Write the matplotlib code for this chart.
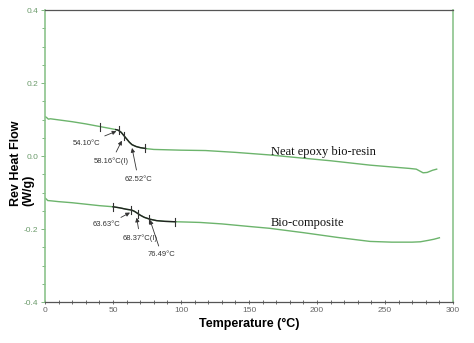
import matplotlib
matplotlib.use("Agg")
import matplotlib.pyplot as plt
import numpy as np

# ---- data ----
neat_T = [0, 1, 2.5, 4, 10, 20, 30, 40, 50, 53.7, 56, 58, 60, 62, 64, 67, 70, 75, 80,
          90, 100, 118, 140, 165, 190, 210, 239, 255, 268, 273, 276, 278, 281, 285, 288]
neat_v = [0.108, 0.106, 0.101, 0.102, 0.099, 0.094, 0.088, 0.081, 0.074, 0.071, 0.065,
          0.056, 0.047, 0.038, 0.031, 0.026, 0.023, 0.020, 0.018, 0.017, 0.016, 0.015,
          0.010, 0.003, -0.006, -0.013, -0.025, -0.030, -0.034, -0.036, -0.042, -0.046,
          -0.045, -0.039, -0.036]

bio_T = [0, 1, 2, 5, 10, 20, 30, 40, 50, 55, 60, 63.6, 66, 68, 70, 73, 77, 82, 88, 95,
         105, 114, 130, 150, 165, 190, 215, 239, 255, 270, 276, 282, 286, 290]
bio_v = [-0.115, -0.118, -0.122, -0.123, -0.125, -0.128, -0.132, -0.136, -0.139, -0.142,
         -0.146, -0.148, -0.152, -0.157, -0.162, -0.168, -0.173, -0.177, -0.179, -0.180,
         -0.181, -0.182, -0.186, -0.193, -0.198, -0.210, -0.223, -0.234, -0.236, -0.236,
         -0.235, -0.231, -0.228, -0.224]

neat_marks = [40.5, 54.1, 58.2, 73.5]
bio_marks = [49.8, 63.6, 68.4, 76.5, 95.6]

neat_black = (52, 74)
bio_black = (50, 96)

neat_ann_labels = ["54.10°C", "58.16°C(I)", "62.52°C"]
neat_ann_xy = [(52.5, 0.068), (56.5, 0.042), (64.0, 0.022)]
neat_ann_text = [(30.7, 0.035), (49.0, -0.014), (68.6, -0.063)]

bio_ann_labels = ["63.63°C", "68.37°C(I)", "76.49°C"]
bio_ann_xy = [(62.5, -0.155), (67.4, -0.169), (77.2, -0.175)]
bio_ann_text = [(45.4, -0.189), (69.9, -0.225), (85.8, -0.271)]

series_labels = ["Neat epoxy bio-resin", "Bio-composite"]
series_label_pos = [(166, 0.012), (166, -0.184)]

x_ticks = [0, 50, 100, 150, 200, 250, 300]
y_ticks = [-0.4, -0.2, 0.0, 0.2, 0.4]

# ---- plotting ----
plt.rcParams['font.family'] = ['Liberation Sans', 'DejaVu Sans']
fig = plt.figure(figsize=(4.74, 3.43), dpi=100)
ax = fig.add_axes([0.0949, 0.1195, 0.8608, 0.8513])

green = '#6cb46c'
ax.plot(neat_T, neat_v, color=green, lw=1.0)
ax.plot(bio_T, bio_v, color=green, lw=1.0)

def black_seg(T, v, rng):
    T = np.asarray(T); v = np.asarray(v)
    tt = np.linspace(rng[0], rng[1], 60)
    ax.plot(tt, np.interp(tt, T, v), color='#222222', lw=1.0)

black_seg(neat_T, neat_v, neat_black)
black_seg(bio_T, bio_v, bio_black)

for T, v, marks in [(neat_T, neat_v, neat_marks), (bio_T, bio_v, bio_marks)]:
    for m in marks:
        yv = np.interp(m, T, v)
        ax.plot([m, m], [yv - 0.011, yv + 0.011], color='#333333', lw=0.8)

for labs, xys, txts in [(neat_ann_labels, neat_ann_xy, neat_ann_text),
                        (bio_ann_labels, bio_ann_xy, bio_ann_text)]:
    for lab, xy, tx in zip(labs, xys, txts):
        ax.annotate(lab, xy=xy, xytext=tx, fontsize=5.5, color='#333333',
                    ha='center', va='center',
                    arrowprops=dict(arrowstyle='-|>', color='#333333', lw=0.6,
                                    mutation_scale=6, shrinkA=2, shrinkB=0))

for lab, pos in zip(series_labels, series_label_pos):
    ax.text(pos[0], pos[1], lab, fontsize=9, family='Liberation Serif',
            ha='left', va='center', color='#111111')

ax.set_xlim(0, 300)
ax.set_ylim(-0.4, 0.4)
ax.set_xticks(x_ticks)
ax.set_yticks(y_ticks)
ax.set_xticks(np.arange(0, 301, 10), minor=True)
ax.set_yticks(np.arange(-0.4, 0.401, 0.05), minor=True)
ax.set_xticklabels([str(t) for t in x_ticks])
ax.set_yticklabels(['-0.4', '-0.2', '0.0', '0.2', '0.4'])

ax.tick_params(axis='x', which='both', direction='inout', colors='#555555',
               labelcolor='#666666', labelsize=6, length=3, width=0.6, pad=2)
ax.tick_params(axis='y', which='major', direction='out', colors='#6cab6c',
               labelcolor='#6a9a6a', labelsize=6, length=3, width=0.6, pad=2)
ax.tick_params(axis='y', which='minor', direction='out', colors='#6cab6c',
               length=2, width=0.6)

for s in ['left', 'right']:
    ax.spines[s].set_color('#8cc48c')
    ax.spines[s].set_linewidth(1.2)
for s in ['top', 'bottom']:
    ax.spines[s].set_color('#555555')
    ax.spines[s].set_linewidth(0.9)

ax.set_xlabel('Temperature (°C)', fontsize=9, fontweight='bold', labelpad=3)
ax.set_ylabel('Rev Heat Flow\n(W/g)', fontsize=9, fontweight='bold',
              linespacing=1.0, multialignment='left')
ax.yaxis.set_label_coords(-0.027, 0.474)

fig.savefig('out.png', dpi=100)
